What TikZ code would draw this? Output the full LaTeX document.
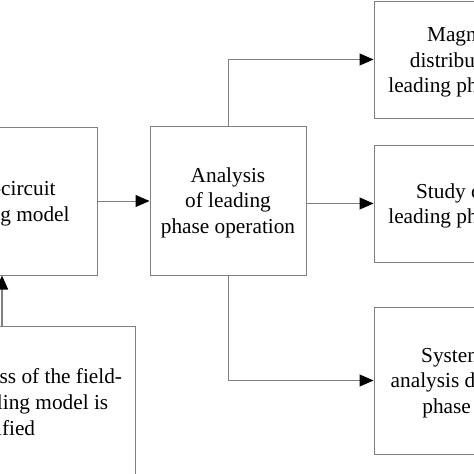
\documentclass[tikz,border=0pt]{standalone}
\usepackage{fontspec}
\setmainfont{Liberation Serif}
\usetikzlibrary{arrows.meta}
\definecolor{linegray}{RGB}{128,128,128}

\begin{document}
\begin{tikzpicture}[line join=miter,x=1pt,y=-1pt,
	block/.style={draw=linegray,line width=1pt,align=center,inner sep=0pt,text depth=0pt,
		font=\fontsize{21.3}{25.8}\selectfont,text=black},
	conn/.style={draw=linegray,line width=1pt,
		-{Triangle[length=14pt,width=12pt,color=black]}}]
				\useasboundingbox (0,0) rectangle (474,474);
				\clip (0,0) rectangle (474,474);
				% blocks
				\node[block,minimum width=188pt,minimum height=148pt] (fcm) at (3,201) {Field-circuit\\coupling model};
				\node[block,minimum width=156pt,minimum height=149pt] (ana) at (228,200.5) {Analysis\\of leading\\phase operation};
				\node[block,minimum width=231pt,minimum height=117pt] (mag) at (489.5,59.5) {Magnetic field\\distribution during\\leading phase operation};
				\node[block,minimum width=231pt,minimum height=117pt] (stu) at (489.5,203.5) {Study of stability\\leading phase operation};
				\node[block,minimum width=231pt,minimum height=147pt] (sys) at (489.5,380.5) {System stability\\analysis during leading\\phase operation};
				\node[block,minimum width=266pt,minimum height=152pt] (ver) at (2,402) {The correctness of the field-\\circuit coupling model is\\verified};
				\coordinate (up) at (2,0);
				% connectors
				\draw[conn] (fcm.east) -- (fcm.east -| ana.west);
				\draw[conn] (ana.east |- stu.west) -- (stu.west);
				\draw[conn] (ana.north) |- (mag.west);
				\draw[conn] (ana.south) |- (sys.west);
				\draw[conn,line width=1.6pt] (ver.north -| up) -- (fcm.south -| up);
			\end{tikzpicture}
\end{document}
